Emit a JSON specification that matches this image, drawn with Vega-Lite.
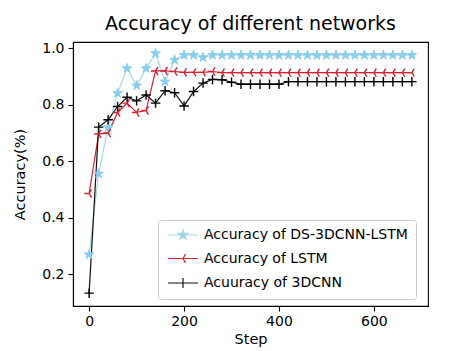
{
  "$schema": "https://vega.github.io/schema/vega-lite/v6.json",
  "width": 355,
  "height": 264,
  "autosize": {"type": "none"},
  "padding": {"left": 73, "top": 42, "right": 46, "bottom": 45},
  "background": "white",
  "config": {
    "font": "DejaVu Sans",
    "view": {"stroke": "black", "strokeWidth": 1.1},
    "axis": {"grid": false, "domainColor": "black", "tickColor": "black", "labelColor": "black", "titleColor": "black", "labelFont": "DejaVu Sans", "titleFont": "DejaVu Sans", "labelFontSize": 14, "titleFontSize": 14.5, "titleFontWeight": "normal", "tickSize": 5, "domainWidth": 1.1, "tickWidth": 1.1}
  },
  "title": {"text": "Accuracy of different networks", "font": "DejaVu Sans", "fontSize": 19, "fontWeight": "normal", "color": "black", "anchor": "middle", "offset": 7},
  "datasets": {
    "acc": [
      {"step": 0, "s": "Accuracy of DS-3DCNN-LSTM", "acc": 0.27},
      {"step": 20, "s": "Accuracy of DS-3DCNN-LSTM", "acc": 0.556},
      {"step": 40, "s": "Accuracy of DS-3DCNN-LSTM", "acc": 0.72},
      {"step": 60, "s": "Accuracy of DS-3DCNN-LSTM", "acc": 0.841},
      {"step": 80, "s": "Accuracy of DS-3DCNN-LSTM", "acc": 0.929},
      {"step": 100, "s": "Accuracy of DS-3DCNN-LSTM", "acc": 0.868},
      {"step": 120, "s": "Accuracy of DS-3DCNN-LSTM", "acc": 0.929},
      {"step": 140, "s": "Accuracy of DS-3DCNN-LSTM", "acc": 0.982},
      {"step": 160, "s": "Accuracy of DS-3DCNN-LSTM", "acc": 0.882},
      {"step": 180, "s": "Accuracy of DS-3DCNN-LSTM", "acc": 0.959},
      {"step": 200, "s": "Accuracy of DS-3DCNN-LSTM", "acc": 0.976},
      {"step": 220, "s": "Accuracy of DS-3DCNN-LSTM", "acc": 0.976},
      {"step": 240, "s": "Accuracy of DS-3DCNN-LSTM", "acc": 0.968},
      {"step": 260, "s": "Accuracy of DS-3DCNN-LSTM", "acc": 0.976},
      {"step": 280, "s": "Accuracy of DS-3DCNN-LSTM", "acc": 0.976},
      {"step": 300, "s": "Accuracy of DS-3DCNN-LSTM", "acc": 0.976},
      {"step": 320, "s": "Accuracy of DS-3DCNN-LSTM", "acc": 0.976},
      {"step": 340, "s": "Accuracy of DS-3DCNN-LSTM", "acc": 0.976},
      {"step": 360, "s": "Accuracy of DS-3DCNN-LSTM", "acc": 0.976},
      {"step": 380, "s": "Accuracy of DS-3DCNN-LSTM", "acc": 0.976},
      {"step": 400, "s": "Accuracy of DS-3DCNN-LSTM", "acc": 0.976},
      {"step": 420, "s": "Accuracy of DS-3DCNN-LSTM", "acc": 0.976},
      {"step": 440, "s": "Accuracy of DS-3DCNN-LSTM", "acc": 0.976},
      {"step": 460, "s": "Accuracy of DS-3DCNN-LSTM", "acc": 0.976},
      {"step": 480, "s": "Accuracy of DS-3DCNN-LSTM", "acc": 0.976},
      {"step": 500, "s": "Accuracy of DS-3DCNN-LSTM", "acc": 0.976},
      {"step": 520, "s": "Accuracy of DS-3DCNN-LSTM", "acc": 0.976},
      {"step": 540, "s": "Accuracy of DS-3DCNN-LSTM", "acc": 0.976},
      {"step": 560, "s": "Accuracy of DS-3DCNN-LSTM", "acc": 0.976},
      {"step": 580, "s": "Accuracy of DS-3DCNN-LSTM", "acc": 0.976},
      {"step": 600, "s": "Accuracy of DS-3DCNN-LSTM", "acc": 0.976},
      {"step": 620, "s": "Accuracy of DS-3DCNN-LSTM", "acc": 0.976},
      {"step": 640, "s": "Accuracy of DS-3DCNN-LSTM", "acc": 0.976},
      {"step": 660, "s": "Accuracy of DS-3DCNN-LSTM", "acc": 0.976},
      {"step": 680, "s": "Accuracy of DS-3DCNN-LSTM", "acc": 0.976},
      {"step": 0, "s": "Accuracy of LSTM", "acc": 0.486},
      {"step": 20, "s": "Accuracy of LSTM", "acc": 0.697},
      {"step": 40, "s": "Accuracy of LSTM", "acc": 0.7},
      {"step": 60, "s": "Accuracy of LSTM", "acc": 0.773},
      {"step": 80, "s": "Accuracy of LSTM", "acc": 0.806},
      {"step": 100, "s": "Accuracy of LSTM", "acc": 0.773},
      {"step": 120, "s": "Accuracy of LSTM", "acc": 0.78},
      {"step": 140, "s": "Accuracy of LSTM", "acc": 0.92},
      {"step": 160, "s": "Accuracy of LSTM", "acc": 0.92},
      {"step": 180, "s": "Accuracy of LSTM", "acc": 0.918},
      {"step": 200, "s": "Accuracy of LSTM", "acc": 0.915},
      {"step": 220, "s": "Accuracy of LSTM", "acc": 0.915},
      {"step": 240, "s": "Accuracy of LSTM", "acc": 0.915},
      {"step": 260, "s": "Accuracy of LSTM", "acc": 0.918},
      {"step": 280, "s": "Accuracy of LSTM", "acc": 0.914},
      {"step": 300, "s": "Accuracy of LSTM", "acc": 0.914},
      {"step": 320, "s": "Accuracy of LSTM", "acc": 0.914},
      {"step": 340, "s": "Accuracy of LSTM", "acc": 0.914},
      {"step": 360, "s": "Accuracy of LSTM", "acc": 0.914},
      {"step": 380, "s": "Accuracy of LSTM", "acc": 0.914},
      {"step": 400, "s": "Accuracy of LSTM", "acc": 0.914},
      {"step": 420, "s": "Accuracy of LSTM", "acc": 0.914},
      {"step": 440, "s": "Accuracy of LSTM", "acc": 0.914},
      {"step": 460, "s": "Accuracy of LSTM", "acc": 0.914},
      {"step": 480, "s": "Accuracy of LSTM", "acc": 0.914},
      {"step": 500, "s": "Accuracy of LSTM", "acc": 0.914},
      {"step": 520, "s": "Accuracy of LSTM", "acc": 0.914},
      {"step": 540, "s": "Accuracy of LSTM", "acc": 0.914},
      {"step": 560, "s": "Accuracy of LSTM", "acc": 0.914},
      {"step": 580, "s": "Accuracy of LSTM", "acc": 0.914},
      {"step": 600, "s": "Accuracy of LSTM", "acc": 0.914},
      {"step": 620, "s": "Accuracy of LSTM", "acc": 0.914},
      {"step": 640, "s": "Accuracy of LSTM", "acc": 0.914},
      {"step": 660, "s": "Accuracy of LSTM", "acc": 0.914},
      {"step": 680, "s": "Accuracy of LSTM", "acc": 0.914},
      {"step": 0, "s": "Acuuracy of 3DCNN", "acc": 0.133},
      {"step": 20, "s": "Acuuracy of 3DCNN", "acc": 0.721},
      {"step": 40, "s": "Acuuracy of 3DCNN", "acc": 0.747},
      {"step": 60, "s": "Acuuracy of 3DCNN", "acc": 0.794},
      {"step": 80, "s": "Acuuracy of 3DCNN", "acc": 0.827},
      {"step": 100, "s": "Acuuracy of 3DCNN", "acc": 0.814},
      {"step": 120, "s": "Acuuracy of 3DCNN", "acc": 0.835},
      {"step": 140, "s": "Acuuracy of 3DCNN", "acc": 0.806},
      {"step": 160, "s": "Acuuracy of 3DCNN", "acc": 0.85},
      {"step": 180, "s": "Acuuracy of 3DCNN", "acc": 0.843},
      {"step": 200, "s": "Acuuracy of 3DCNN", "acc": 0.796},
      {"step": 220, "s": "Acuuracy of 3DCNN", "acc": 0.847},
      {"step": 240, "s": "Acuuracy of 3DCNN", "acc": 0.877},
      {"step": 260, "s": "Acuuracy of 3DCNN", "acc": 0.89},
      {"step": 280, "s": "Acuuracy of 3DCNN", "acc": 0.889},
      {"step": 300, "s": "Acuuracy of 3DCNN", "acc": 0.88},
      {"step": 320, "s": "Acuuracy of 3DCNN", "acc": 0.873},
      {"step": 340, "s": "Acuuracy of 3DCNN", "acc": 0.873},
      {"step": 360, "s": "Acuuracy of 3DCNN", "acc": 0.873},
      {"step": 380, "s": "Acuuracy of 3DCNN", "acc": 0.873},
      {"step": 400, "s": "Acuuracy of 3DCNN", "acc": 0.873},
      {"step": 420, "s": "Acuuracy of 3DCNN", "acc": 0.882},
      {"step": 440, "s": "Acuuracy of 3DCNN", "acc": 0.882},
      {"step": 460, "s": "Acuuracy of 3DCNN", "acc": 0.882},
      {"step": 480, "s": "Acuuracy of 3DCNN", "acc": 0.882},
      {"step": 500, "s": "Acuuracy of 3DCNN", "acc": 0.882},
      {"step": 520, "s": "Acuuracy of 3DCNN", "acc": 0.882},
      {"step": 540, "s": "Acuuracy of 3DCNN", "acc": 0.882},
      {"step": 560, "s": "Acuuracy of 3DCNN", "acc": 0.882},
      {"step": 580, "s": "Acuuracy of 3DCNN", "acc": 0.882},
      {"step": 600, "s": "Acuuracy of 3DCNN", "acc": 0.882},
      {"step": 620, "s": "Acuuracy of 3DCNN", "acc": 0.882},
      {"step": 640, "s": "Acuuracy of 3DCNN", "acc": 0.882},
      {"step": 660, "s": "Acuuracy of 3DCNN", "acc": 0.882},
      {"step": 680, "s": "Acuuracy of 3DCNN", "acc": 0.882}
    ]
  },
  "data": {"name": "acc"},
  "encoding": {
    "x": {"field": "step", "type": "quantitative", "scale": {"domain": [-34, 714], "nice": false, "zero": false}, "axis": {"values": [0, 200, 400, 600], "title": "Step", "labelPadding": 3, "titlePadding": 4}},
    "y": {"field": "acc", "type": "quantitative", "scale": {"domain": [0.0875, 1.0225], "nice": false, "zero": false}, "axis": {"values": [0.2, 0.4, 0.6, 0.8, 1.0], "format": ".1f", "title": "Accuracy(%)", "labelPadding": 4, "titlePadding": 14}}
  },
  "layer": [
    {
      "mark": {"type": "line", "strokeWidth": 1.2},
      "encoding": {
        "color": {
          "field": "s", "type": "nominal",
          "scale": {"domain": ["Accuracy of DS-3DCNN-LSTM", "Accuracy of LSTM", "Acuuracy of 3DCNN"], "range": ["#a8d8ea", "#d62030", "#111111"]},
          "legend": {
            "title": null, "orient": "none", "legendX": 85, "legendY": 178,
            "labelFont": "DejaVu Sans", "labelFontSize": 14, "labelColor": "black", "labelLimit": 0,
            "symbolSize": 100, "symbolStrokeWidth": 1.2, "symbolOffset": 10, "labelOffset": 14,
            "rowPadding": 9.5, "padding": 8, "strokeColor": "#cccccc", "fillColor": "white", "cornerRadius": 3,
            "encode": {"symbols": {"update": {
              "shape": {"signal": "datum.value === 'Accuracy of DS-3DCNN-LSTM' ? 'M-3,0L3,0M0,-1L0.2245,-0.309L0.951,-0.309L0.363,0.118L0.588,0.809L0,0.382L-0.588,0.809L-0.363,0.118L-0.951,-0.309L-0.2245,-0.309Z' : datum.value === 'Accuracy of LSTM' ? 'M-3,0L3,0M0,0L-1,0M0,0L0.5,-0.866M0,0L0.5,0.866' : 'M-3,0L3,0M-1,0L1,0M0,-1L0,1'"},
              "fill": {"signal": "datum.value === 'Accuracy of DS-3DCNN-LSTM' ? '#87ceeb' : 'transparent'"}
            }}}
          }
        }
      }
    },
    {
      "transform": [{"filter": "datum.s === 'Accuracy of DS-3DCNN-LSTM'"}],
      "mark": {"type": "point", "shape": "M0,-1L0.2245,-0.309L0.951,-0.309L0.363,0.118L0.588,0.809L0,0.382L-0.588,0.809L-0.363,0.118L-0.951,-0.309L-0.2245,-0.309Z", "filled": true, "fill": "#87ceeb", "stroke": "#87ceeb", "strokeWidth": 1, "opacity": 1, "size": 100}
    },
    {
      "transform": [{"filter": "datum.s === 'Accuracy of LSTM'"}],
      "mark": {"type": "point", "shape": "M0,0L-1,0M0,0L0.5,-0.866M0,0L0.5,0.866", "filled": false, "stroke": "#d62030", "strokeWidth": 1.4, "opacity": 1, "size": 90}
    },
    {
      "transform": [{"filter": "datum.s === 'Acuuracy of 3DCNN'"}],
      "mark": {"type": "point", "shape": "M-1,0L1,0M0,-1L0,1", "filled": false, "stroke": "#000000", "strokeWidth": 1.4, "opacity": 1, "size": 90}
    }
  ]
}
